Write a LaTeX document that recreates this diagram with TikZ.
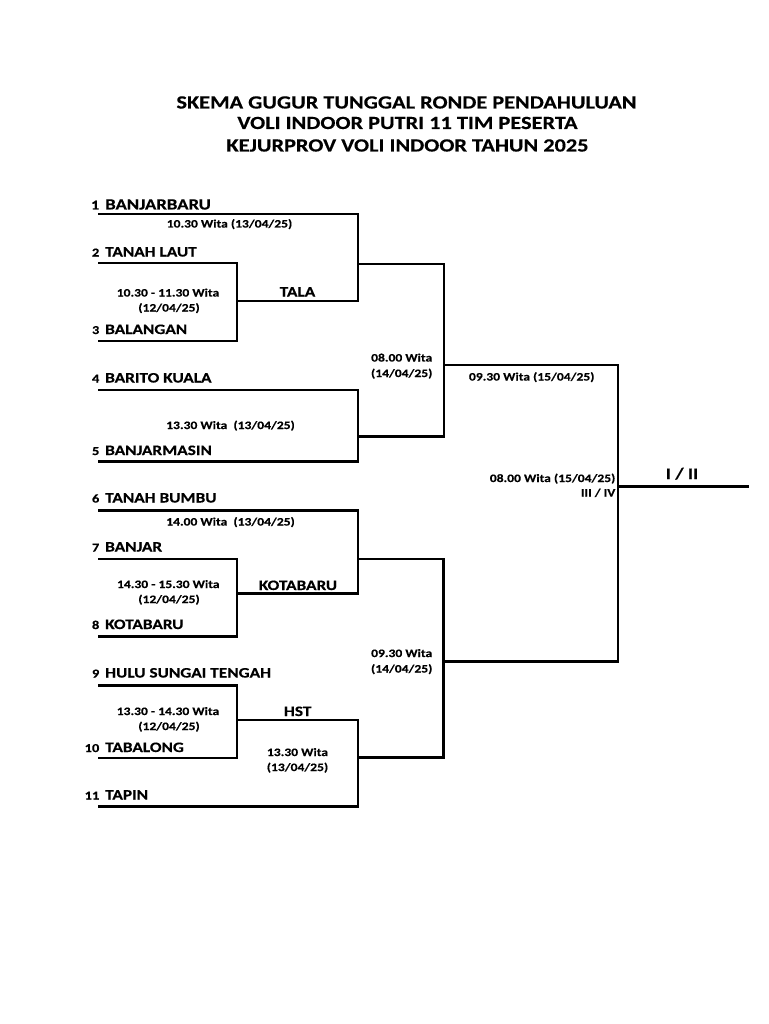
\documentclass[tikz,border=0pt]{standalone}
\usepackage{fontspec}
\setmainfont{Carlito}[FakeStretch=1.2,BoldFeatures={FakeBold=0.35}]
\begin{document}
\begin{tikzpicture}[x=1pt,y=-1pt,
  br/.style={line width=2.9pt,line cap=rect,line join=miter},
  title/.style={font=\bfseries\fontsize{18.6}{22}\selectfont,inner sep=0pt,anchor=base},
  team/.style={font=\bfseries\fontsize{14.4}{17}\selectfont,inner sep=0pt,anchor=base west},
  num/.style={font=\bfseries\fontsize{12}{14}\selectfont,inner sep=0pt,anchor=base east},
  lbl/.style={font=\bfseries\fontsize{11.3}{14}\selectfont,inner sep=0pt,anchor=base},
  win/.style={font=\bfseries\fontsize{14.4}{17}\selectfont,inner sep=0pt,anchor=base}]
\useasboundingbox[fill=white] (0,0) rectangle (768,1024);
% titles
\node[title] (t1) at (406.5,108.5) {SKEMA GUGUR TUNGGAL RONDE PENDAHULUAN};
\node[title] (t2) at (407.5,129) {VOLI INDOOR PUTRI 11 TIM PESERTA};
\node[title] (t3) at (407.5,151.5) {KEJURPROV VOLI INDOOR TAHUN 2025};
% coordinates
\coordinate (a1) at (99,214); \coordinate (a1r) at (358,214);
\coordinate (a2) at (99,263); \coordinate (a2r) at (237,263);
\coordinate (a3) at (99,341); \coordinate (a3r) at (237,341);
\coordinate (w23) at (358,301);
\coordinate (a4) at (99,390); \coordinate (a4r) at (358,390);
\coordinate (a5) at (99,461.5); \coordinate (a5r) at (358,461.5);
\coordinate (q1) at (444,264); \coordinate (q2) at (444,436.5);
\coordinate (s1) at (618,365); \coordinate (s2) at (618,661.5);
\coordinate (fin) at (748,486.5);
\coordinate (a6) at (99,510.5); \coordinate (a6r) at (358,510.5);
\coordinate (a7) at (99,559); \coordinate (a7r) at (237,559);
\coordinate (a8) at (99,636.5); \coordinate (a8r) at (237,636.5);
\coordinate (w78) at (358,593.5);
\coordinate (a9) at (99,685.5); \coordinate (a9r) at (237,685.5);
\coordinate (a10) at (99,758); \coordinate (a10r) at (237,758);
\coordinate (w910) at (358,720);
\coordinate (a11) at (99,806.5); \coordinate (a11r) at (358,806.5);
\coordinate (q3) at (443.5,559); \coordinate (q4) at (443.5,757.5);
% brackets top half
\draw[br] (a1) -- (a1r) -- (w23) -- (a2r |- w23);
\draw[br] (a2) -- (a2r) -- (a3r) -- (a3);
\draw[br] (a1r |- q1) -- (q1) -- (q2) -- (a4r |- q2);
\draw[br] (a4) -- (a4r) -- (a5r) -- (a5);
\draw[br] (q1 |- s1) -- (s1) -- (s2) -- (q3 |- s2);
\draw[br] (s1 |- fin) -- (fin);
% bottom half
\draw[br] (a6) -- (a6r) -- (w78) -- (a7r |- w78);
\draw[br] (a7) -- (a7r) -- (a8r) -- (a8);
\draw[br] (a6r |- q3) -- (q3) -- (q4) -- (a11r |- q4);
\draw[br] (a9) -- (a9r) -- (a10r) -- (a10);
\draw[br] (a10r |- w910) -- (w910) -- (a11r) -- (a11);
% team names
\node[num,font=\bfseries\fontsize{13.5}{15}\selectfont] (n1) at (99.5,209.5) {1};
\node[team,font=\bfseries\fontsize{15.6}{18}\selectfont] (tm1) at (105,209.5) {BANJARBARU};
\node[num] (n2) at (99.5,256.5) {2};
\node[team] (tm2) at (105,256.5) {TANAH LAUT};
\node[num] (n3) at (99.5,334) {3};
\node[team] (tm3) at (105,334) {BALANGAN};
\node[num] (n4) at (99.5,382.5) {4};
\node[team] (tm4) at (105,382.5) {BARITO KUALA};
\node[num] (n5) at (99.5,455) {5};
\node[team] (tm5) at (105,455) {BANJARMASIN};
\node[num] (n6) at (99.5,502.5) {6};
\node[team] (tm6) at (105,502.5) {TANAH BUMBU};
\node[num] (n7) at (99.5,551.5) {7};
\node[team] (tm7) at (105,551.5) {BANJAR};
\node[num] (n8) at (99.5,629) {8};
\node[team] (tm8) at (105,629) {KOTABARU};
\node[num] (n9) at (99.5,677.5) {9};
\node[team] (tm9) at (105,677.5) {HULU SUNGAI TENGAH};
\node[num] (n10) at (99.5,752) {10};
\node[team] (tm10) at (105,752) {TABALONG};
\node[num] (n11) at (99.5,799.5) {11};
\node[team] (tm11) at (105,799.5) {TAPIN};
% match labels
\node[lbl] (m1) at (229.5,227.5) {10.30 Wita (13/04/25)};
\node[lbl] (m2a) at (168,296.5) {10.30 - 11.30 Wita};
\node[lbl] (m2b) at (169,311.5) {(12/04/25)};
\node[win] (wt) at (297.5,296.5) {TALA};
\node[lbl] (m3a) at (401.7,361.5) {08.00 Wita};
\node[lbl] (m3b) at (401.7,377) {(14/04/25)};
\node[lbl] (m4) at (230.5,429) {13.30 Wita\ \ (13/04/25)};
\node[lbl] (m5) at (531.7,380.5) {09.30 Wita (15/04/25)};
\node[lbl,anchor=base east] (m6) at (615.5,482) {08.00 Wita (15/04/25)};
\node[lbl,anchor=base east] (m7) at (615.5,496.5) {III / IV};
\node[win,font=\bfseries\fontsize{16}{19}\selectfont] (fw) at (682,479) {I / II};
\node[lbl] (m8) at (230.5,525.5) {14.00 Wita\ \ (13/04/25)};
\node[lbl] (m9a) at (168.3,588) {14.30 - 15.30 Wita};
\node[lbl] (m9b) at (169,603) {(12/04/25)};
\node[win] (wk) at (298,590) {KOTABARU};
\node[lbl] (m10a) at (401.7,657) {09.30 Wita};
\node[lbl] (m10b) at (401.7,672.5) {(14/04/25)};
\node[lbl] (m11a) at (168,715) {13.30 - 14.30 Wita};
\node[lbl] (m11b) at (169,730) {(12/04/25)};
\node[win] (wh) at (297.7,716) {HST};
\node[lbl] (m12a) at (297.5,756) {13.30 Wita};
\node[lbl] (m12b) at (297.5,771) {(13/04/25)};
\end{tikzpicture}
\end{document}
